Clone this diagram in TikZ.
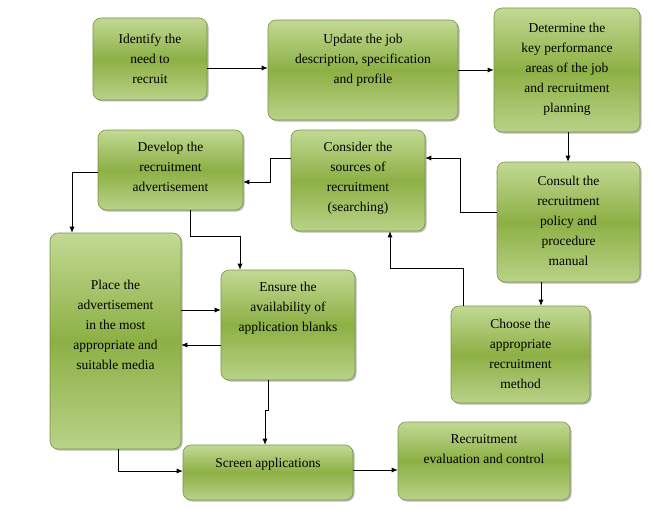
\documentclass[tikz,border=0pt]{standalone}
\usepackage{fontspec}
\setmainfont{Liberation Serif}
\usetikzlibrary{arrows.meta,shadows}
\definecolor{gtop}{HTML}{C2D994}
\definecolor{gmid}{HTML}{8DB045}
\definecolor{gbot}{HTML}{B9D288}
\definecolor{gdraw}{HTML}{7A9445}
\tikzset{
  gbox/.style={draw=gdraw, line width=0.6pt, rounded corners=8pt, top color=gtop, bottom color=gbot, middle color=gmid, drop shadow={shadow xshift=1.5pt, shadow yshift=-1.5pt, fill=black!55}},
  gtext/.style={anchor=north, align=center, font=\fontsize{13.5}{20}\selectfont},
  arr/.style={-{Latex[length=6pt,width=5pt]}, line width=0.7pt}
}
\begin{document}
\begin{tikzpicture}[x=1pt,y=-1pt]
\useasboundingbox (0,0) rectangle (652,508);
\fill[white] (0,0) rectangle (652,508);
\node[gbox, minimum width=114pt, minimum height=82pt] (a) at (150,59) {};
\node[gbox, minimum width=190pt, minimum height=100pt] (b) at (363,70) {};
\node[gbox, minimum width=146pt, minimum height=124pt] (c) at (567,70) {};
\node[gbox, minimum width=145pt, minimum height=80pt] (d) at (170.5,170) {};
\node[gbox, minimum width=134pt, minimum height=101pt] (e) at (358,180.5) {};
\node[gbox, minimum width=143pt, minimum height=120pt] (f) at (568.5,222) {};
\node[gbox, minimum width=131pt, minimum height=216pt] (g) at (115.5,341) {};
\node[gbox, minimum width=134pt, minimum height=110pt] (h) at (288,325) {};
\node[gbox, minimum width=139pt, minimum height=97pt] (i) at (520.5,354.5) {};
\node[gbox, minimum width=170pt, minimum height=55pt] (j) at (268,472.5) {};
\node[gbox, minimum width=172pt, minimum height=78pt] (k) at (484,461) {};
\node[gtext] (ta) at ([yshift=-13pt]a.north) {Identify the\\ need to\\ recruit};
\node[gtext] (tb) at ([yshift=-11pt]b.north) {Update the job\\ description, specification\\ and profile};
\node[gtext] (tc) at ([yshift=-12pt]c.north) {Determine the\\ key performance\\ areas of the job\\ and recruitment\\ planning};
\node[gtext] (td) at ([yshift=-9pt]d.north) {Develop the\\ recruitment\\ advertisement};
\node[gtext] (te) at ([yshift=-9pt]e.north) {Consider the\\ sources of\\ recruitment\\ (searching)};
\node[gtext] (tf) at ([yshift=-11pt]f.north) {Consult the\\ recruitment\\ policy and\\ procedure\\ manual};
\node[gtext] (tg) at ([yshift=-44pt]g.north) {Place the\\ advertisement\\ in the most\\ appropriate and\\ suitable media};
\node[gtext] (th) at ([yshift=-9pt]h.north) {Ensure the\\ availability of\\ application blanks};
\node[gtext] (ti) at ([yshift=-10pt]i.north) {Choose the\\ appropriate\\ recruitment\\ method};
\node[gtext] (tj) at ([yshift=-10pt]j.north) {Screen applications};
\node[gtext] (tk) at ([yshift=-9pt]k.north) {Recruitment\\ evaluation and control};
\draw[arr] (a.east |- 0,68) -- (b.west |- 0,68);
\draw[arr] (b.east |- 0,70) -- (c.west |- 0,70);
\draw[arr] (c.south -| 568,0) -- (f.north -| 568,0);
\draw[arr] (f.west |- 0,212) -| (460,158) -- (e.east |- 0,158);
\draw[arr] (e.west |- 0,158) -| (270,182) -- (d.east |- 0,182);
\draw[arr] (d.west |- 0,172) -| (g.north -| 72,0);
\draw[arr] (d.south -| 190,0) |- (240,236) -- (h.north -| 240,0);
\draw[arr] (g.east |- 0,310) -- (h.west |- 0,310);
\draw[arr] (h.west |- 0,345) -- (g.east |- 0,345);
\draw[arr] (f.south -| 541,0) -- (i.north -| 541,0);
\draw[arr] (i.north -| 463,0) |- (390,268) -- (e.south -| 390,0);
\draw[arr] (h.south -| 268,0) |- (265,410) -- (j.north -| 265,0);
\draw[arr] (g.south -| 118,0) |- (j.west |- 0,471);
\draw[arr] (j.east |- 0,470) -- (k.west |- 0,470);
\end{tikzpicture}
\end{document}
